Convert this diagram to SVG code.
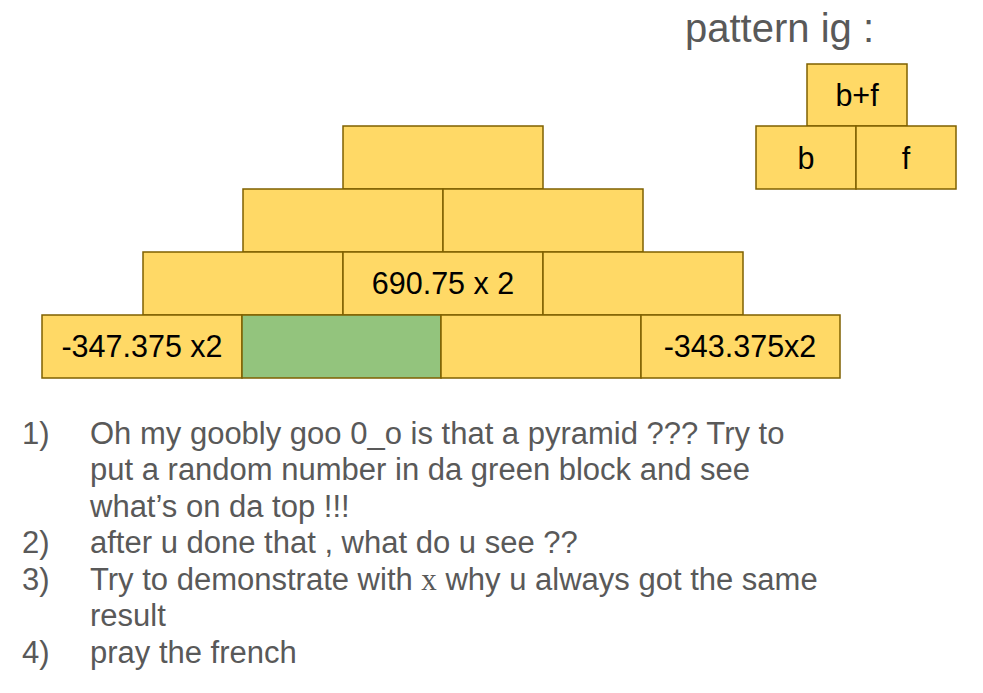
<svg xmlns="http://www.w3.org/2000/svg" width="983" height="693" viewBox="0 0 983 693">
<style>
.blk{fill:#ffd966;stroke:#7f6000;stroke-width:1.5}
.grn{fill:#93c47d;stroke:#7f6000;stroke-width:1.5}
.lbl{font-family:"Liberation Sans",Arial,sans-serif;font-size:30.5px;fill:#000;text-anchor:middle}
.txt{font-family:"Liberation Sans",Arial,sans-serif;font-size:31px;fill:#595959}
.ttl{font-family:"Liberation Sans",Arial,sans-serif;font-size:40px;fill:#595959}
</style>
<rect width="983" height="693" fill="#fff"/>
<g id="pyramid">
<g id="r1c1"><rect class="blk" x="343" y="126" width="200" height="63"/></g>
<g id="r2c1"><rect class="blk" x="243" y="189" width="200" height="63"/></g>
<g id="r2c2"><rect class="blk" x="443" y="189" width="200" height="63"/></g>
<g id="r3c1"><rect class="blk" x="143" y="252" width="200" height="63"/></g>
<g id="r3c2"><rect class="blk" x="343" y="252" width="200" height="63"/><text class="lbl" x="443" y="294">690.75 x 2</text></g>
<g id="r3c3"><rect class="blk" x="543" y="252" width="200" height="63"/></g>
<g id="r4c1"><rect class="blk" x="42" y="315" width="200" height="63"/><text class="lbl" x="142" y="357">-347.375 x2</text></g>
<g id="r4c2"><rect class="grn" x="242" y="315" width="199" height="63"/></g>
<g id="r4c3"><rect class="blk" x="441" y="315" width="200" height="63"/></g>
<g id="r4c4"><rect class="blk" x="641" y="315" width="199" height="63"/><text class="lbl" x="740" y="357">-343.375x2</text></g>
</g>
<g id="pattern">
<text class="ttl" x="685" y="42">pattern ig :</text>
<g id="pbf"><rect class="blk" x="807" y="64" width="100" height="62"/><text class="lbl" x="857" y="106">b+f</text></g>
<g id="pb"><rect class="blk" x="756" y="126" width="100" height="63"/><text class="lbl" x="806" y="169">b</text></g>
<g id="pf"><rect class="blk" x="856" y="126" width="100" height="63"/><text class="lbl" x="906" y="169">f</text></g>
</g>
<g id="connectors"></g>
<g id="list">
<text class="txt" x="22" y="444">1)</text>
<text class="txt" x="90" y="444">Oh my goobly goo 0_o is that a pyramid ??? Try to</text>
<text class="txt" x="90" y="480">put a random number in da green block and see</text>
<text class="txt" x="90" y="516.5">what’s on da top !!!</text>
<text class="txt" x="22" y="553">2)</text>
<text class="txt" x="90" y="553">after u done that , what do u see ??</text>
<text class="txt" x="22" y="590">3)</text>
<text class="txt" x="90" y="590">Try to demonstrate with <tspan font-family="'Liberation Serif','Times New Roman',serif">x</tspan> why u always got the same</text>
<text class="txt" x="90" y="626">result</text>
<text class="txt" x="22" y="663">4)</text>
<text class="txt" x="90" y="663">pray the french</text>
</g>
</svg>
